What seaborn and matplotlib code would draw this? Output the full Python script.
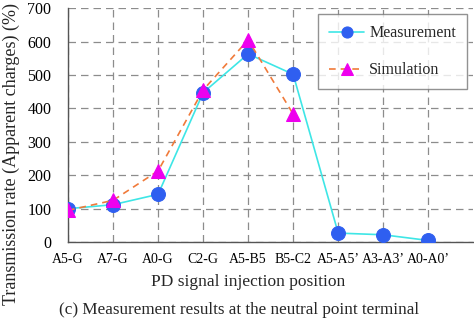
import numpy as np
import pandas as pd
import matplotlib
matplotlib.use("Agg")
import matplotlib.pyplot as plt
import seaborn as sns

categories = ["A5-G", "A7-G", "A0-G", "C2-G", "A5-B5", "B5-C2",
              "A5-A5\u2019", "A3-A3\u2019", "A0-A0\u2019"]
measurement = [100, 112, 143, 447, 563, 502, 27, 22, 5]
simulation = [95, 125, 213, 455, 605, 383]
yticks = [0, 100, 200, 300, 400, 500, 600, 700]

sns.set_theme(style="white")
plt.rcParams["font.family"] = ["Liberation Serif", "DejaVu Serif"]

df_m = pd.DataFrame({"pos": np.arange(len(measurement)), "val": measurement})
df_s = pd.DataFrame({"pos": np.arange(len(simulation)), "val": simulation})

fig = plt.figure(figsize=(4.74, 3.25), dpi=100)
ax = fig.add_axes([0.1435, 0.255, 0.855, 0.72])

sns.lineplot(data=df_m, x="pos", y="val", ax=ax, color="#3ee6e6", lw=1.2,
             marker="o", markersize=10, markerfacecolor="#2f5ff0",
             markeredgecolor="#2f5ff0", label="Measurement", zorder=3)
sns.lineplot(data=df_s, x="pos", y="val", ax=ax, color="#f07a3a", lw=1.2,
             linestyle=(0, (4, 3)), marker="^", markersize=10,
             markerfacecolor="#ee00ee", markeredgecolor="#ee00ee",
             label="Simulation", zorder=4)

ax.set_xlim(0, 9)
ax.set_ylim(0, 700)
ax.set_xticks(np.arange(len(categories)))
ax.set_xticklabels(categories, fontsize=10)
ax.set_yticks(yticks)
ax.set_yticklabels([str(v) for v in yticks], fontsize=11.5)
ax.grid(True, color="#8c8c8c", linestyle=(0, (6, 4)), lw=0.9)
ax.set_axisbelow(True)
for s in ["top", "right"]:
    ax.spines[s].set_visible(False)
for s in ["left", "bottom"]:
    ax.spines[s].set_color("#555555")
    ax.spines[s].set_linewidth(1.0)
ax.tick_params(axis="y", length=0, pad=12, colors="black")
ax.tick_params(axis="x", length=0, pad=8, colors="black")

ax.set_xlabel("PD signal injection position", fontsize=12.5)
ax.xaxis.set_label_coords(0.444, -0.135)
ax.set_ylabel("Transmission rate (Apparent charges) (%)", fontsize=13)
ax.yaxis.set_label_coords(-0.118, 0.375)

leg = ax.legend(loc="upper right", bbox_to_anchor=(0.985, 0.974),
                borderaxespad=0, fontsize=11.5, frameon=True, fancybox=False,
                labelspacing=1.3, handlelength=2.2, borderpad=0.7,
                handletextpad=0.3, markerscale=0.8)
leg.get_frame().set_edgecolor("#777777")
leg.get_frame().set_linewidth(1.0)

fig.text(0.505, 0.045, "(c) Measurement results at the neutral point terminal",
         ha="center", va="center", fontsize=12.3)

fig.savefig("out.png", dpi=100)
